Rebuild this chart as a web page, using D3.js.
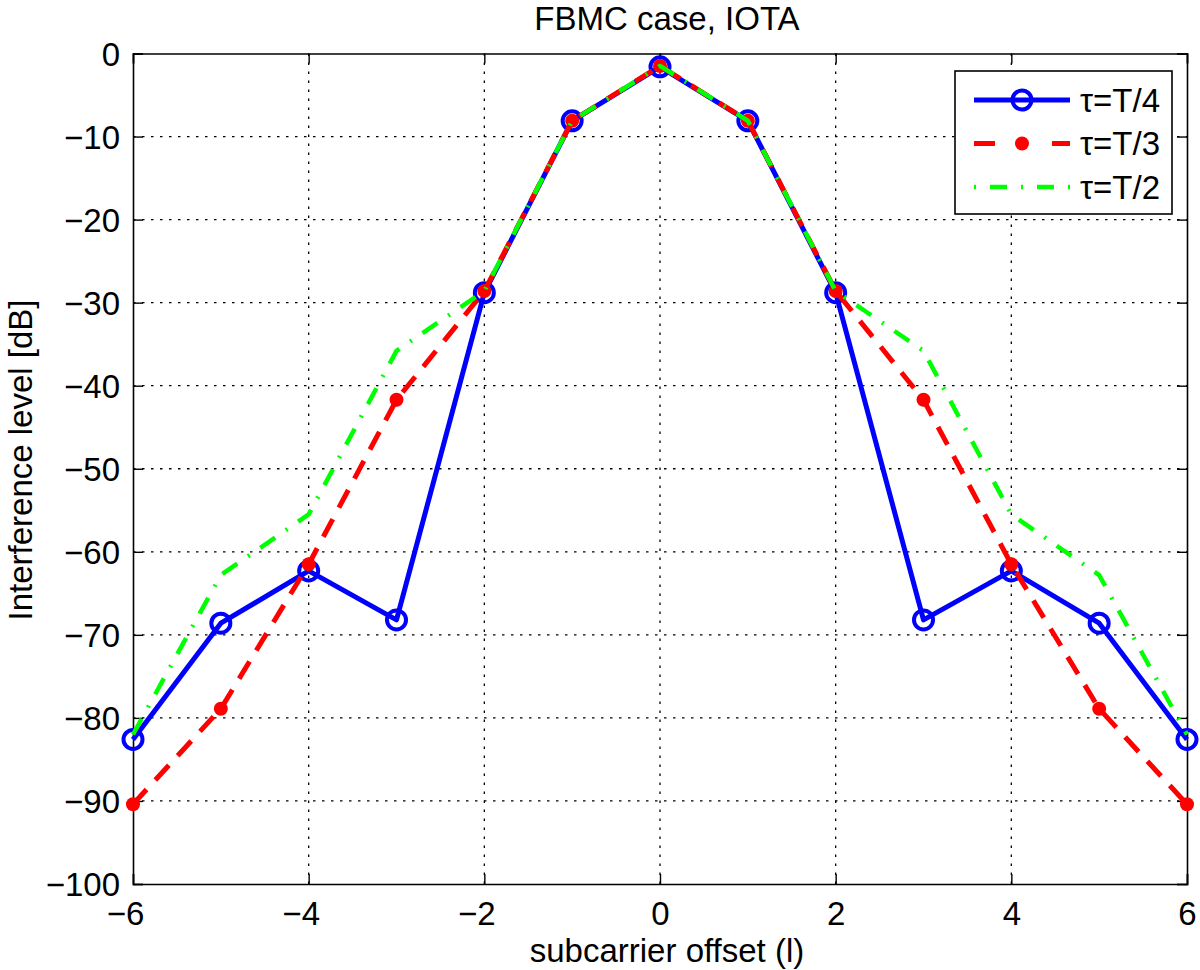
<!DOCTYPE html>
<html>
<head>
<meta charset="utf-8">
<script src="https://cdn.jsdelivr.net/npm/d3@7"></script>
<style>
  body { margin: 0; background: #fff; }
  text { font-family: "Liberation Sans", Arial, Helvetica, sans-serif; fill: #000; }
</style>
</head>
<body>
<svg id="chart" width="1200" height="970"></svg>
<script>
// subcarrier offsets and interference levels [dB]
const offsets = [-6, -5, -4, -3, -2, -1, 0, 1, 2, 3, 4, 5, 6]
const tauT4 = [-82.6, -68.6, -62.3, -68.2, -28.8, -8.1, -1.6, -8.1, -28.8, -68.2, -62.3, -68.6, -82.6]
const tauT3 = [-90.4, -78.9, -61.5, -41.7, -28.6, -8.1, -1.5, -8.1, -28.6, -41.7, -61.5, -78.9, -90.4]
const tauT2 = [-82.0, -62.8, -55.5, -35.8, -28.6, -8.1, -1.5, -8.1, -28.6, -35.8, -55.5, -62.8, -82.0]
const seriesNames = ["τ=T/4", "τ=T/3", "τ=T/2"]
const xTicks = [-6, -4, -2, 0, 2, 4, 6]
const yTicks = [0, -10, -20, -30, -40, -50, -60, -70, -80, -90, -100]

const svg = d3.select("#chart")
const pLeft = 133, pRight = 1187, pTop = 53.5, pBottom = 884
const fs = 33

let x = d3.scaleLinear().domain([-6, 6]).range([pLeft, pRight])
let y = d3.scaleLinear().domain([-100, 0]).range([pBottom, pTop])
const fmt = v => (v < 0 ? "\u2212" + Math.abs(v) : String(v))

//grid
let grid = svg.append("g").attr("stroke", "#000").attr("stroke-width", 1.3).attr("stroke-dasharray", "2.5,6.5")
grid.selectAll(".gx").data(xTicks.slice(1, -1)).enter().append("line")
  .attr("x1", d => x(d)).attr("x2", d => x(d)).attr("y1", pTop).attr("y2", pBottom)
grid.selectAll(".gy").data(yTicks.slice(1, -1)).enter().append("line")
  .attr("x1", pLeft).attr("x2", pRight).attr("y1", d => y(d)).attr("y2", d => y(d))

//axes, ticks inward on all four sides
const tick = 10
let axB = svg.append("g").attr("transform", `translate(0,${pBottom})`)
  .call(d3.axisBottom(x).tickValues(xTicks).tickSize(-tick).tickPadding(0).tickFormat(fmt))
let axT = svg.append("g").attr("transform", `translate(0,${pTop})`)
  .call(d3.axisTop(x).tickValues(xTicks).tickSize(-tick).tickFormat(""))
let axL = svg.append("g").attr("transform", `translate(${pLeft},0)`)
  .call(d3.axisLeft(y).tickValues(yTicks).tickSize(-tick).tickPadding(13).tickFormat(fmt))
let axR = svg.append("g").attr("transform", `translate(${pRight},0)`)
  .call(d3.axisRight(y).tickValues(yTicks).tickSize(-tick).tickFormat(""))

;[axB, axT, axL, axR].forEach(a => {
  a.select(".domain").attr("stroke", "#000").attr("stroke-width", 1.6)
  a.selectAll(".tick line").attr("stroke", "#000").attr("stroke-width", 1.4)
})
axB.selectAll(".tick text").attr("font-size", fs).attr("dy", null).attr("y", 41)
  .attr("dx", d => d < 0 ? -8 : 0)
axL.selectAll(".tick text").attr("font-size", fs).attr("dy", "0.36em")

//labels
svg.append("text").attr("x", 667).attr("y", 30).attr("text-anchor", "middle")
  .attr("font-size", fs).text("FBMC case, IOTA")
svg.append("text").attr("x", 667).attr("y", 962).attr("text-anchor", "middle")
  .attr("font-size", fs).text("subcarrier offset (l)")
svg.append("text").attr("transform", "translate(32,460) rotate(-90)").attr("text-anchor", "middle")
  .attr("font-size", fs).text("Interference level [dB]")

//series
const series = [
  { vals: tauT4, color: "#0000ff", width: 5, dash: null, legendDash: null, marker: "ring" },
  { vals: tauT3, color: "#ff0000", width: 5, dash: "20,13", legendDash: "21,57", marker: "dot" },
  { vals: tauT2, color: "#00ff00", width: 4.5, dash: "18,13,2,13", legendDash: "2,14,17,14", marker: null }
]
let line = d3.line().x(d => x(d[0])).y(d => y(d[1]))

function drawMarkers(g, s, pts) {
  if (s.marker === "ring") {
    g.selectAll("circle").data(pts).enter().append("circle")
      .attr("cx", d => d[0]).attr("cy", d => d[1]).attr("r", 9.5)
      .attr("fill", "none").attr("stroke", s.color).attr("stroke-width", 4)
  } else if (s.marker === "dot") {
    g.selectAll("circle").data(pts).enter().append("circle")
      .attr("cx", d => d[0]).attr("cy", d => d[1]).attr("r", 7)
      .attr("fill", s.color)
  }
}

series.forEach(s => {
  let pts = offsets.map((o, i) => [o, s.vals[i]])
  let g = svg.append("g")
  g.append("path").attr("d", line(pts)).attr("fill", "none")
    .attr("stroke", s.color).attr("stroke-width", s.width)
    .attr("stroke-dasharray", s.dash).attr("stroke-linejoin", "round")
  drawMarkers(g, s, pts.map(p => [x(p[0]), y(p[1])]))
})

//legend
let lg = svg.append("g")
lg.append("rect").attr("x", 955).attr("y", 71).attr("width", 217).attr("height", 143)
  .attr("fill", "#fff").attr("stroke", "#000").attr("stroke-width", 1.6)
series.forEach((s, i) => {
  let ly = 100 + i * 43.5
  let g = lg.append("g")
  g.append("line").attr("x1", 974).attr("x2", 1070).attr("y1", ly).attr("y2", ly)
    .attr("stroke", s.color).attr("stroke-width", s.width).attr("stroke-dasharray", s.legendDash)
  drawMarkers(g, s, [[1022, ly]])
  g.append("text").attr("x", 1080).attr("y", ly).attr("dy", "0.36em")
    .attr("font-size", fs).text(seriesNames[i])
})
</script>
</body>
</html>
